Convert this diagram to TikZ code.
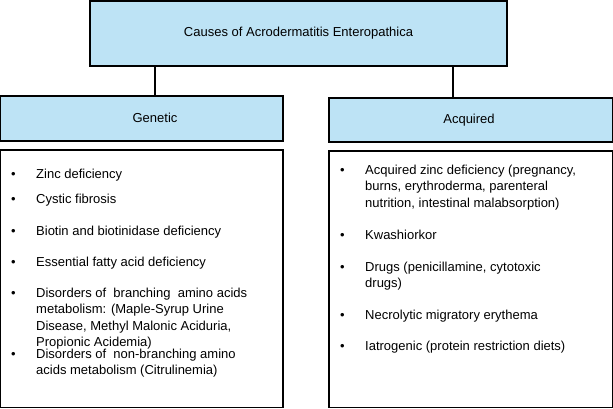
\documentclass[tikz,border=0pt]{standalone}
\usepackage{fontspec}
\setmainfont{Liberation Sans}
\definecolor{hb}{HTML}{BDE3F5}
\begin{document}
\begin{tikzpicture}[x=1pt,y=-1pt,
  hdr/.style={draw=black,line width=1.1pt,fill=hb},
  body/.style={draw=black,line width=1.1pt,fill=white},
  lbl/.style={font=\fontsize{13}{16.3}\selectfont,inner sep=0pt},
  item/.style={font=\fontsize{13}{16.3}\selectfont,inner sep=0pt,anchor=base west}]
\useasboundingbox (0,0) rectangle (613,408);
\draw[hdr] (90,1) rectangle (507,66);
\node[lbl] (top) at (298.5,33) {Causes of Acrodermatitis Enteropathica};
\draw[hdr] (0.5,96) rectangle (283,141);
\node[lbl] (gen) at (155,118) {Genetic};
\draw[hdr] (329,98) rectangle (612.5,142);
\node[lbl] (acq) at (469,120) {Acquired};
\coordinate (t1) at (155,66); \coordinate (g1) at (155,96);
\coordinate (t2) at (453,66); \coordinate (a1) at (453,98);
\draw[line width=1.1pt] (t1) -- (g1);
\draw[line width=1.1pt] (t2) -- (a1);
\draw[body] (0.5,150) rectangle (283,407.5);
\draw[body] (329,151) rectangle (612.5,407.5);
% left bullets
\foreach \y in {178,203,235,266,297,358} \node[item] at (11,\y) {•};
\foreach \y/\t in {178/Zinc deficiency,203/Cystic fibrosis,235/Biotin and biotinidase deficiency,266/Essential fatty acid deficiency,
 297/{Disorders of\ \ branching\ \ amino acids},313.5/{metabolism: (Maple-Syrup Urine},330/{Disease, Methyl Malonic Aciduria,},346.5/{Propionic Acidemia)},
 358/{Disorders of\ \ non-branching amino},374.5/{acids metabolism (Citrulinemia)}}
 \node[item] at (36,\y) {\t};
% right
\foreach \y in {174,239,271,319,350} \node[item] at (340,\y) {•};
\foreach \y/\t in {174/{Acquired zinc deficiency (pregnancy,},190.5/{burns, erythroderma, parenteral},207/{nutrition, intestinal malabsorption)},
 239/Kwashiorkor,271/{Drugs (penicillamine, cytotoxic},287.5/{drugs)},319/Necrolytic migratory erythema,350/Iatrogenic (protein restriction diets)}
 \node[item] at (365,\y) {\t};
\end{tikzpicture}
\end{document}
